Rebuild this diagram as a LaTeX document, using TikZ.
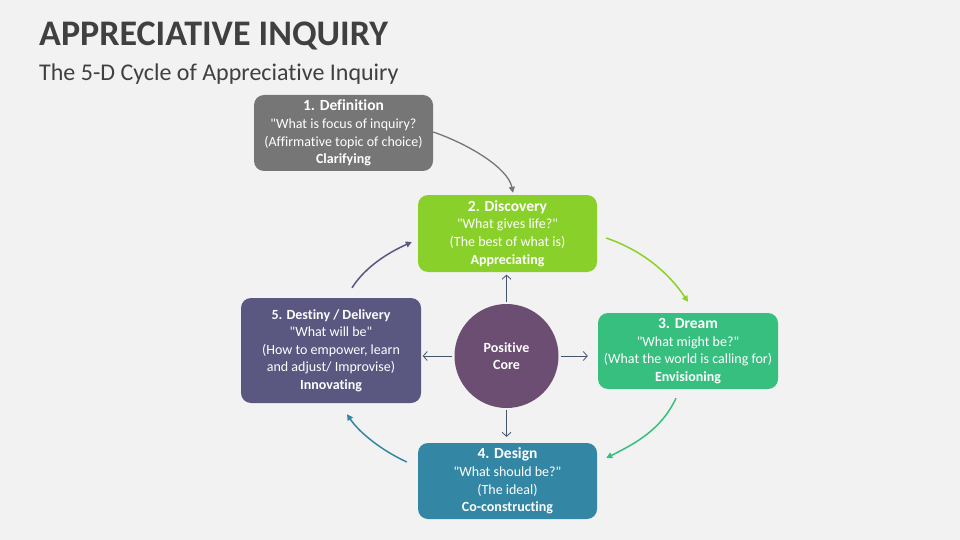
\documentclass[tikz,border=0pt]{standalone}
\usepackage{fontspec}
\setmainfont{Carlito}[Ligatures={NoCommon,TeXOff}]
\usetikzlibrary{arrows.meta,calc}
\definecolor{bgc}{HTML}{F2F2F2}
\definecolor{titlec}{HTML}{404040}
\definecolor{defc}{HTML}{767676}
\definecolor{discc}{HTML}{8AD02B}
\definecolor{dreamc}{HTML}{37BF7F}
\definecolor{designc}{HTML}{3387A4}
\definecolor{destc}{HTML}{5A5781}
\definecolor{corec}{HTML}{6C4E72}
\definecolor{linkc}{HTML}{44546A}
\begin{document}
\begin{tikzpicture}[x=1pt,y=-1pt,
  box/.style={rounded corners=10pt, text=white, align=center, minimum width=179pt,
    minimum height=76pt, inner sep=0pt, font=\fontsize{14}{17.6}\selectfont},
  corelink/.style={draw=linkc, line width=0.8pt, -{Straight Barb[length=4pt,width=9pt]}},
  cyc/.style={line width=1.5pt, -{Triangle[length=6pt,width=6pt]}}]
\fill[bgc] (0,0) rectangle (960,540);
\useasboundingbox (0,0) rectangle (960,540);
\node[anchor=base west, inner sep=0pt, text=titlec, font=\fontsize{36}{40}\selectfont\bfseries] (title) at (39,46) {APPRECIATIVE INQUIRY};
\node[anchor=base west, inner sep=0pt, text=titlec, font=\fontsize{24}{28}\selectfont] (sub) at (39,81) {The 5-D Cycle of Appreciative Inquiry};

\node[box, fill=defc] (def) at (343.5,133) {{\bfseries\fontsize{15.5}{17.6}\selectfont 1. Definition}\\"What is focus of inquiry?\\(Affirmative topic of choice)\\\textbf{Clarifying}};
\node[box, fill=discc, minimum height=77pt] (disc) at (507.5,233.5) {{\bfseries\fontsize{15.5}{17.6}\selectfont 2. Discovery}\\"What gives life?"\\(The best of what is)\\\textbf{Appreciating}};
\node[box, fill=dreamc, minimum width=180pt] (dream) at (688,351) {{\bfseries\fontsize{15.5}{17.6}\selectfont 3. Dream}\\"What might be?"\\(What the world is calling for)\\\textbf{Envisioning}};
\node[box, fill=designc] (design) at (507.5,481) {{\bfseries\fontsize{15.5}{17.6}\selectfont 4. Design}\\"What should be?"\\(The ideal)\\\textbf{Co-constructing}};
\node[box, fill=destc, minimum width=180pt, minimum height=105pt] (dest) at (331,350.5) {{\bfseries\fontsize{14}{17.6}\selectfont 5. Destiny / Delivery}\\"What will be"\\(How to empower, learn\\and adjust/ Improvise)\\\textbf{Innovating}};
\node[circle, fill=corec, minimum size=104pt, inner sep=0pt, text=white, align=center, font=\fontsize{14}{17}\selectfont\bfseries] (core) at (506.5,356) {Positive\\Core};

\draw[corelink, shorten <=1.5pt, shorten >=2.5pt] (core.north) -- (core.north |- disc.south);
\draw[corelink, shorten <=1.5pt, shorten >=6pt] (core.south) -- (core.south |- design.north);
\draw[corelink, shorten <=2pt, shorten >=1.5pt] (core.west) -- (core.west -| dest.east);
\draw[corelink, shorten <=2pt, shorten >=10pt] (core.east) -- (core.east -| dream.west);

\draw[cyc, draw=defc, line width=1.3pt] ($(def.east)+(0,-1)$) .. controls +(35,12) and +(-5,-25) .. ($(disc.north)+(5.5,-2)$);
\draw[cyc, draw=discc] ($(disc.east)+(9,4.5)$) .. controls +(35,12) and +(-20,-30) .. ($(dream.north)+(0,-11)$);
\draw[cyc, draw=dreamc] ($(dream.south)+(-12,9)$) .. controls +(-15,32) and +(28,-14) .. ($(design.east)+(9,-23)$);
\draw[cyc, draw=designc] ($(design.west)+(-11,-19)$) .. controls +(-26,-12) and +(12,18) .. ($(dest.south)+(16,11)$);
\draw[cyc, draw=destc] ($(dest.north)+(21,-10)$) .. controls +(14,-22) and +(-22,10) .. ($(disc.west)+(-6,8.5)$);
\end{tikzpicture}
\end{document}
